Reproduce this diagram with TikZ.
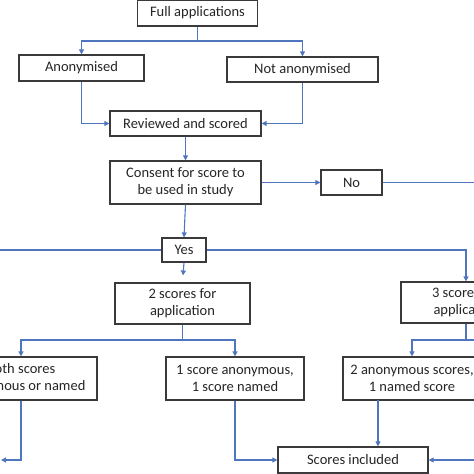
\documentclass[tikz,border=0pt]{standalone}
\usepackage{fontspec}
\setmainfont{Carlito}
\usetikzlibrary{arrows.meta,calc}
\definecolor{lineblue}{HTML}{4F76BD}
\definecolor{boxgray}{HTML}{3A3A3A}
\tikzset{
  box/.style={draw=boxgray,line width=1.2pt,fill=white,align=center,inner sep=0pt,text=black!85,font=\fontsize{14.5}{17}\selectfont},
  conn/.style={draw=lineblue,line width=1.1pt},
  arr/.style={conn,-{Triangle[length=5pt,width=5pt]}}
}
\begin{document}
\begin{tikzpicture}[x=1pt,y=-1pt]
\useasboundingbox (0,0) rectangle (474,474);
\clip (0,0) rectangle (474,474);
% nodes
\node[box,minimum width=120pt,minimum height=26pt] (full) at (197.5,13) {Full applications};
\node[box,minimum width=125pt,minimum height=26pt] (anon) at (81.5,68) {Anonymised};
\node[box,minimum width=151pt,minimum height=25pt] (notanon) at (302.5,69.5) {Not anonymised};
\node[box,minimum width=151pt,minimum height=25pt] (rev) at (185.5,123.5) {Reviewed and scored};
\node[box,minimum width=151pt,minimum height=43pt] (consent) at (185.5,182.5) {Consent for score to\\be used in study};
\node[box,minimum width=61pt,minimum height=25pt] (no) at (351.5,182.5) {No};
\node[box,minimum width=44pt,minimum height=24pt] (yes) at (184,250) {Yes};
\node[box,minimum width=135pt,minimum height=41pt] (two) at (182.5,303.5) {2 scores for\\application};
\node[box,minimum width=130pt,minimum height=41pt] (three) at (466,302.5) {3 scores for\\application};
\node[box,minimum width=152pt,minimum height=43pt] (both) at (21,378.5) {Both scores\\anonymous or named};
\node[box,minimum width=138pt,minimum height=43pt] (onenamed) at (235,378.5) {1 score anonymous,\\1 score named};
\node[box,minimum width=138pt,minimum height=43pt] (twoanon) at (412,378.5) {2 anonymous scores,\\1 named score};
\node[box,minimum width=150pt,minimum height=26pt] (incl) at (353,460) {Scores included};
% junction coordinates
\coordinate (j1) at (197.5,41);
\coordinate (noR) at (480,182.5);
\coordinate (yesL) at (-5,250);
\coordinate (j2) at (182.5,340);
\coordinate (j3) at (466,340);
\coordinate (j3R) at (480,340);
\coordinate (bL) at (1,460);
\coordinate (inR) at (480,460);
\coordinate (taS) at (378,400);
% connectors
\draw[conn] (full.south) -- (j1);
\draw[arr] (j1) -| (anon.north);
\draw[arr] (j1) -| (notanon.north);
\draw[arr] (anon.south) |- (rev.west);
\draw[arr] (notanon.south) |- (rev.east);
\draw[arr] (rev.south) -- (consent.north);
\draw[arr] (consent.east) -- (no.west);
\draw[conn] (no.east) -- (noR);
\draw[arr] (consent.south) -- (yes.north);
\draw[conn] (yes.west) -- (yesL);
\draw[arr] (yes.east) -| (three.north);
\draw[arr,shorten >=7pt] (yes.south) -- (two.north);
\draw[conn] (two.south) -- (j2);
\draw[arr] (j2) -| (both.north);
\draw[arr] (j2) -| (onenamed.north);
\draw[conn] (three.south) -- (j3);
\draw[arr] (j3) -| (twoanon.north);
\draw[conn] (j3) -- (j3R);
\draw[arr] (both.south) |- (bL);
\draw[arr] (onenamed.south) |- (incl.west);
\draw[arr] (taS) -- (taS |- incl.north);
\draw[arr] (inR) -- (incl.east);
\end{tikzpicture}
\end{document}
